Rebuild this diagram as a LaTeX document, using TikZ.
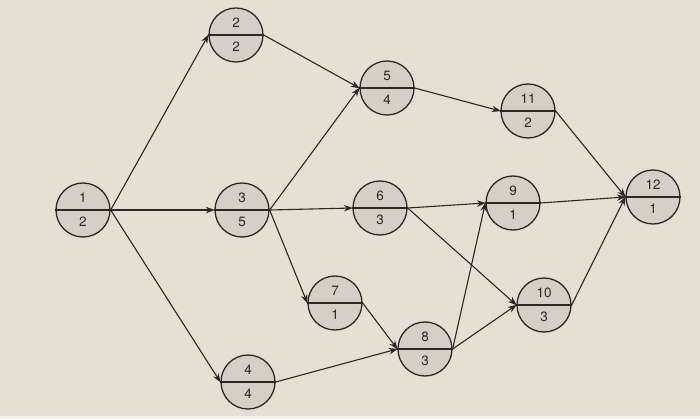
\documentclass[tikz,border=0pt]{standalone}
\usepackage{fontspec}
\setmainfont{TeX Gyre Heros}
\usetikzlibrary{arrows.meta}
\definecolor{paper}{HTML}{E6E0D4}
\definecolor{disc}{HTML}{D5D0C7}
\definecolor{ink}{HTML}{2A2826}
\tikzset{
  evt/.style={circle, draw=ink, line width=1.3pt, fill=disc, minimum size=54pt, inner sep=0pt},
  lbl/.style={font=\fontsize{13.5}{13.5}\selectfont, text=ink, inner sep=0pt},
  link/.style={draw=ink, line width=1.1pt, -{Stealth[length=9pt,width=6.5pt]}, shorten >=-0.5pt}
}
\newcommand\netevt[5]{%
  \node[evt] (#1) at (#2,#3) {};
  \draw[ink, line width=1.3pt] (#1.west) -- (#1.east);
  \node[lbl] (#1t) at ([yshift=12pt]#1.center) {#4};
  \node[lbl] (#1b) at ([yshift=-12pt]#1.center) {#5};
}
\begin{document}
\begin{tikzpicture}[x=1pt,y=-1pt]
\fill[paper] (0,0) rectangle (700,419);
\fill[white!60!paper] (0,416) rectangle (700,419);
\useasboundingbox (0,0) rectangle (700,419);
\netevt{n1}{83}{210}{1}{2}
\netevt{n2}{236}{35}{2}{2}
\netevt{n3}{242}{210}{3}{5}
\netevt{n4}{248}{382}{4}{4}
\netevt{n5}{387}{88}{5}{4}
\netevt{n6}{380}{208}{6}{3}
\netevt{n7}{335}{303}{7}{1}
\netevt{n8}{425}{349}{8}{3}
\netevt{n9}{513}{203}{9}{1}
\netevt{n10}{544}{305}{10}{3}
\netevt{n11}{528}{111}{11}{2}
\netevt{n12}{653}{197}{12}{1}
\foreach \a/\b in {n1/n2,n1/n3,n1/n4,n2/n5,n3/n5,n3/n6,n3/n7,n4/n8,n7/n8,n5/n11,n6/n9,n6/n10,n8/n9,n8/n10,n9/n12,n10/n12,n11/n12}
  \draw[link] (\a.east) -- (\b.west);
\end{tikzpicture}
\end{document}
